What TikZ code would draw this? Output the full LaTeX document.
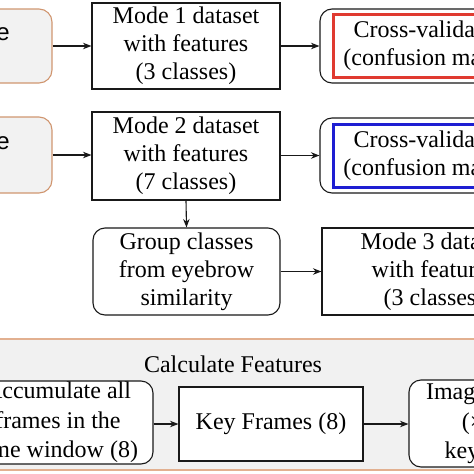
\documentclass[tikz,border=0pt]{standalone}
\usepackage{fontspec}
\setmainfont{Liberation Serif}
\newfontfamily\lsans{Liberation Sans}
\usetikzlibrary{arrows.meta}
\definecolor{srcedge}{RGB}{208,150,112}
\definecolor{srcfill}{RGB}{242,242,242}
\definecolor{bandedge}{RGB}{226,176,144}
\definecolor{bandfill}{RGB}{241,241,241}
\definecolor{cvred}{RGB}{224,58,48}
\definecolor{cvblue}{RGB}{30,30,210}
\definecolor{edge}{RGB}{25,25,25}
\newcommand{\bigtext}{\fontsize{24}{28}\selectfont}
\newcommand{\bigtextb}{\fontsize{24}{29.5}\selectfont}
\tikzset{
  box/.style={draw=edge, line width=1.1pt, fill=white, align=center, inner sep=0pt, font=\bigtext},
  rbox/.style={box, rounded corners=12pt},
  srcbox/.style={draw=srcedge, line width=1.1pt, fill=srcfill, rounded corners=13pt, inner sep=0pt},
  conn/.style={draw=edge, line width=1.1pt, -{Stealth[length=8.5pt,width=6.5pt]}},
  cvin/.style={line width=3pt}
}
\begin{document}
\begin{tikzpicture}[x=1pt,y=-1pt]
\useasboundingbox (0,0) rectangle (474,474);
% source boxes (cut off at left)
\node[srcbox, minimum width=120pt, minimum height=74pt] (L1) at (-8,46) {};
\node[srcbox, minimum width=120pt, minimum height=76pt] (L2) at (-8,155) {};
\node[anchor=base east, inner sep=0pt, font=\lsans\fontsize{24}{28}\selectfont] (L1t) at (10,40) {e};
\node[anchor=base east, inner sep=0pt, font=\lsans\fontsize{24}{28}\selectfont] (L2t) at (10,149) {e};
% mode datasets
\node[box, minimum width=188pt, minimum height=86pt] (M1) at (186,46) {Mode 1 dataset\\with features\\(3 classes)};
\node[box, minimum width=188pt, minimum height=88pt] (M2) at (186,156) {Mode 2 dataset\\with features\\(7 classes)};
% cross-validation
\node[rbox, minimum width=226pt, minimum height=74pt] (CV1) at (433,46) {};
\draw[cvred, cvin] (333.5,14.5) rectangle (540,77);
\node[inner sep=0pt, align=center, font=\bigtext] (CV1t) at (433,46) {Cross-validation\\(confusion matrix)};
\node[rbox, minimum width=226pt, minimum height=75pt] (CV2) at (433,155.5) {};
\draw[cvblue, cvin] (333.5,124.5) rectangle (540,187);
\node[inner sep=0pt, align=center, font=\bigtext] (CV2t) at (433,155.5) {Cross-validation\\(confusion matrix)};
% group & mode 3
\node[rbox, minimum width=187pt, minimum height=87pt] (G) at (186.5,271.5) {Group classes\\from eyebrow\\similarity};
\node[box, minimum width=224pt, minimum height=87pt] (M3) at (434,271.5) {Mode 3 dataset\\with features\\(3 classes)};
% band
\filldraw[fill=bandfill, draw=bandedge, line width=1.2pt] (-10,339) rectangle (484,470);
\node[inner sep=0pt, font=\bigtext] (T) at (233,364) {Calculate Features};
\node[rbox, font=\bigtextb, minimum width=190pt, minimum height=83pt] (A) at (58,422.5) {Accumulate all\\frames in the\\time window (8)};
\node[box, minimum width=184pt, minimum height=74pt] (K) at (271,424) {Key Frames (8)};
\node[rbox, font=\bigtextb, minimum width=176pt, minimum height=87pt] (I) at (497,423.5) {Image features\\(\texttimes8 per\\key frame)};
% connectors
\draw[conn] (L1) -- (M1);
\draw[conn] (L2) -- (M2.west |- L2);
\draw[conn] (M1) -- (CV1);
\draw[conn] (M2.east |- CV2) -- (CV2);
\draw[conn] (M2.south) -- (G.north);
\draw[conn] (G) -- (M3);
\draw[conn] (A.east |- K) -- (K);
\draw[conn] (K) -- (I.west |- K);
\end{tikzpicture}
\end{document}
